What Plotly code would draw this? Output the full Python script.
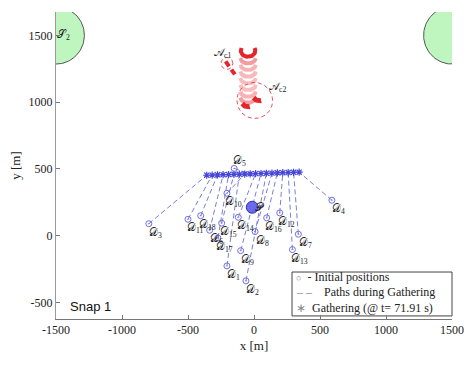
import numpy as np
import plotly.graph_objects as go

# ---------------- data ----------------
drone_names = [f"D{i}" for i in range(1, 19)]
init_x = [-205, -61, -797, 590, -150, -336, 336, 8, -101, -205, -500, 195, 291, -119, -245, 96, -273, -404]
init_y = [-227, -339, 89, 265, 503, 40, 10, 30, -113, 317, 122, 170, -105, 137, 93, 133, -19, 149]
gather_x = [-111, 94, -358, 342, -29, -234, 300, 136, 53, -70, -317, 218, 259, 12, -152, 177, -193, -276]
gather_y = [460, 467, 452, 475, 463, 456, 474, 468, 465, 461, 453, 471, 472, 464, 459, 470, 457, 455]

p_x, p_y = [-13], [212]

station_names = ["S1", "S2"]
station_x = [1500, -1500]
station_y = [1500, 1500]
station_r = [215, 215]

# attacker trail (stacked arcs)
trail_x = [-45, -45, -45, -45, -45, -45, -45, -45]
trail_y = [1385, 1330, 1280, 1230, 1180, 1130, 1080, 1035]
trail_alpha = [1.0, 0.45, 0.35, 0.32, 0.3, 0.3, 0.35, 0.45]
ac1_x = [-215, -190, -165, -140]
ac1_y = [1305, 1270, 1235, 1200]
ac2_circle = (6, 1012, 135)
ac1_circle = (-205, 1290, 45)

x_ticks = [-1500, -1000, -500, 0, 500, 1000, 1500]
y_ticks = [-500, 0, 500, 1000, 1500]

# --------------- styles ---------------
BLUE = "#4646d8"
LBLUE = "#7c7cdc"
RED = "#e4262c"
SERIF = "Liberation Serif"

fig = go.Figure()

def circle_pts(cx, cy, r, n=120, t0=0, t1=2*np.pi, ry=None):
    t = np.linspace(t0, t1, n)
    ry = r if ry is None else ry
    return cx + r*np.cos(t), cy + ry*np.sin(t)

# stations
for cx, cy, r in zip(station_x, station_y, station_r):
    xs, ys = circle_pts(cx, cy, r)
    fig.add_trace(go.Scatter(x=xs, y=ys, mode="lines", fill="toself",
                             fillcolor="#bff5bf", line=dict(color="#555555", width=1),
                             hoverinfo="skip", showlegend=False))

# attacker trail arcs
for k, (cx, cy, a) in enumerate(zip(trail_x, trail_y, trail_alpha)):
    if k == 0:
        xs, ys = circle_pts(cx, cy, 55, n=40, t0=np.pi*0.85, t1=np.pi*2.15, ry=45)
    else:
        xs, ys = circle_pts(cx, cy, 58, n=40, t0=np.pi, t1=2*np.pi, ry=40)
    fig.add_trace(go.Scatter(x=xs, y=ys, mode="lines",
                             line=dict(color=f"rgba(228,38,44,{a})", width=4),
                             hoverinfo="skip", showlegend=False))
# dashed circles
for (cx, cy, r) in [ac2_circle, ac1_circle]:
    xs, ys = circle_pts(cx, cy, r)
    fig.add_trace(go.Scatter(x=xs, y=ys, mode="lines",
                             line=dict(color="rgba(228,38,44,0.8)", width=1, dash="4px,3px"),
                             hoverinfo="skip", showlegend=False))
fig.add_trace(go.Scatter(x=ac1_x, y=ac1_y, mode="lines",
                         line=dict(color=RED, width=4, dash="6px,4px"),
                         hoverinfo="skip", showlegend=False))
# A_c2 blobs
for cx, cy in [(40, 1045), (-46, 1000)]:
    xs, ys = circle_pts(cx, cy, 45, n=20, t0=np.pi*1.1, t1=np.pi*1.6, ry=35)
    fig.add_trace(go.Scatter(x=xs, y=ys, mode="lines", line=dict(color=RED, width=5),
                             hoverinfo="skip", showlegend=False))

# paths
for i in range(len(init_x)):
    fig.add_trace(go.Scatter(x=[init_x[i], gather_x[i]], y=[init_y[i], gather_y[i]],
                             mode="lines", line=dict(color=LBLUE, width=1, dash="5px,3px"),
                             hoverinfo="skip", showlegend=False))
# gathering stars
fig.add_trace(go.Scatter(x=gather_x, y=gather_y, mode="markers",
                         marker=dict(symbol="asterisk-open", size=6, color=BLUE,
                                     line=dict(width=1.2, color=BLUE)),
                         showlegend=False))
# initial positions
fig.add_trace(go.Scatter(x=init_x, y=init_y, mode="markers",
                         marker=dict(symbol="circle-open-dot", size=6, color="#7070e0",
                                     line=dict(width=1, color="#7070e0")),
                         showlegend=False))
# P
fig.add_trace(go.Scatter(x=p_x, y=p_y, mode="markers",
                         marker=dict(symbol="circle", size=12, color="#6a6af0",
                                     line=dict(width=1, color="#3030b0")),
                         showlegend=False))

ann = []
for i, name in enumerate(drone_names):
    dx, dy = (53, -68) if name != "D5" else (40, 55)
    ann.append(dict(x=init_x[i] + dx, y=init_y[i] + dy, xref="x", yref="y",
                    text=f"𝒟<sub>{name[1:]}</sub>", showarrow=False,
                    font=dict(family=SERIF, size=11, color="#222")))
ann.append(dict(x=p_x[0] + 55, y=p_y[0] + 5, xref="x", yref="y", text="𝒫",
                showarrow=False, font=dict(family=SERIF, size=11, color="#222")))
ann.append(dict(x=station_x[1] + 55, y=station_y[1], xref="x", yref="y", text="𝒮<sub>2</sub>",
                showarrow=False, font=dict(family=SERIF, size=11, color="#222")))
ann.append(dict(x=station_x[0] + 15, y=station_y[0], xref="x", yref="y", text="𝒮<sub>1</sub>",
                showarrow=False, font=dict(family=SERIF, size=11, color="#222")))
ann.append(dict(x=-238, y=1365, xref="x", yref="y", text="𝒜<sub>c1</sub>",
                showarrow=False, font=dict(family=SERIF, size=11, color="#222")))
ann.append(dict(x=180, y=1110, xref="x", yref="y", text="𝒜<sub>c2</sub>",
                showarrow=False, font=dict(family=SERIF, size=11, color="#222")))
ann.append(dict(x=0.03, y=0.042, xref="paper", yref="paper", text="Snap 1",
                xanchor="left", yanchor="middle",
                showarrow=False, font=dict(family="Liberation Sans", size=13, color="#111")))
# legend
leg_rows = [("<span style='color:#888;font-size:9px'>○</span>  - Initial positions", 0.138),
            ("<span style='color:#888'>– –</span>    Paths during Gathering", 0.087),
            ("<span style='color:#888'>∗</span>  Gathering (@ t= 71.91 s)", 0.036)]
for txt, yy in leg_rows:
    ann.append(dict(x=0.6, y=yy, xref="paper", yref="paper", text=txt,
                    xanchor="left", yanchor="middle",
                    showarrow=False, font=dict(family=SERIF, size=12, color="#222")))

fig.update_layout(
    width=474, height=367,
    margin=dict(l=48, r=30, t=4, b=56),
    paper_bgcolor="white", plot_bgcolor="white",
    annotations=ann,
    shapes=[dict(type="rect", xref="paper", yref="paper", x0=0.596, x1=1.0, y0=0.01, y1=0.153,
                 line=dict(color="#444", width=1), fillcolor="white", layer="below")],
    xaxis=dict(range=[-1500, 1500], tickvals=x_ticks, ticktext=[str(v) for v in x_ticks],
               ticks="inside", ticklen=4, tickcolor="#777", showline=True, linecolor="#777",
               showgrid=False, zeroline=False, automargin=False,
               tickfont=dict(family=SERIF, size=12, color="#222"),
               title=dict(text="x [m]", font=dict(family=SERIF, size=13, color="#222"), standoff=4)),
    yaxis=dict(range=[-625, 1675], tickvals=y_ticks, ticktext=[str(v) for v in y_ticks],
               ticks="inside", ticklen=4, tickcolor="#777", showline=True, linecolor="#999",
               showgrid=False, zeroline=False, automargin=False,
               tickfont=dict(family=SERIF, size=12, color="#222"),
               title=dict(text="y [m]", font=dict(family=SERIF, size=13, color="#222"), standoff=8)),
)
fig.write_html("out.html")
